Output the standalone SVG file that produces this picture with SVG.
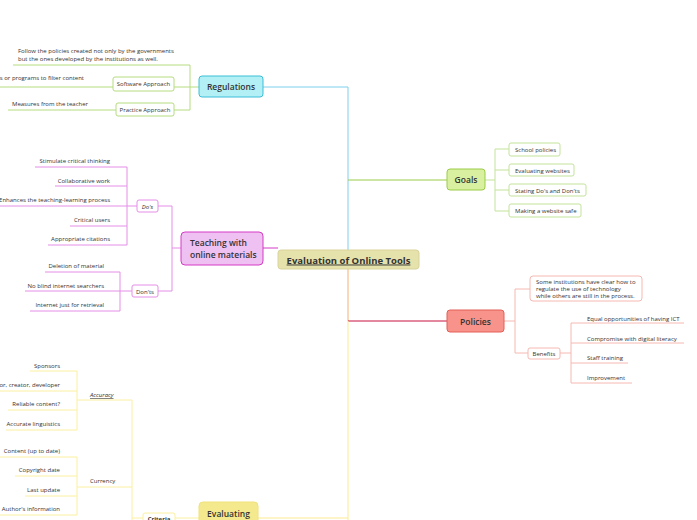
<svg xmlns="http://www.w3.org/2000/svg" width="697" height="520" viewBox="0 0 697 520">
<style>
text{font-family:"Open Sans","DejaVu Sans",sans-serif;fill:#333}
.s{font-size:6px}
.m{font-size:8.5px;font-weight:600}
.b{fill:#fff;stroke-width:1}
line,polyline,path{fill:none}
</style>
<rect width="697" height="520" fill="#fff"/>
<g id="connectors">
<path d="M263 87H348V250" stroke="#7fd0ee"/>
<path d="M348 180H447" stroke="#9bcc46"/>
<path d="M348 269V321" stroke="#f5b070"/>
<path d="M348 321H447" stroke="#c8103f"/>
<path d="M348 321V520" stroke="#fbeb90"/>
<path d="M263 248H278" stroke="#d63bc6"/>
<path d="M258 518H348" stroke="#fbeb90"/>
<g stroke="#b5dc7e">
<path d="M199 87H190M190 65V110M190 65H13M190 87H174M190 110H174"/>
<path d="M113 87H0M116 110H8"/>
</g>
<g stroke="#e48ee8">
<path d="M181 248H172M172 206V291M172 206H158M172 291H158"/>
<path d="M137 206H127M127 167V245M127 167H35M127 186H55M127 206H0M127 226H70M127 245H48"/>
<path d="M132 291H120M120 272V311M120 272H45M120 291H25M120 311H30"/>
</g>
<g stroke="#fbf0a0">
<path d="M199 518H175M143 518H132M132 400V520M132 400H90M132 487H90"/>
<path d="M90 400H77M77 371V430M77 371H30M77 391H0M77 410H8M77 430H6"/>
<path d="M90 487H77M77 457V515M77 457H0M77 476H15M77 496H25M77 515H0"/>
</g>
<g stroke="#c4e39a">
<path d="M485 180H495M495 149V211M495 149H509M495 170H509M495 190H509M495 211H509"/>
</g>
<g stroke="#f5b8b2">
<path d="M504 321H515M515 289V353M515 289H530M515 353H528"/>
<path d="M560 353H571M571 323V383M571 323H684M571 343H684M571 363H628M571 383H632"/>
</g>
</g>
<g id="center"><rect x="278" y="250" width="141" height="19" rx="3" fill="#e6e2ab" stroke="#d8d39a"/><text x="348.5" y="263.5" text-anchor="middle" style="font-size:9.5px;font-weight:bold;text-decoration:underline">Evaluation of Online Tools</text></g>
<g id="regulations"><rect x="199" y="76" width="64" height="21" rx="3" fill="#b3f0f5" stroke="#3bbfd6"/><text x="231" y="90" text-anchor="middle" class="m">Regulations</text></g>
<g id="reg-follow"><text x="18" y="53" class="s">Follow the policies created not only by the governments</text><text x="18" y="61" class="s">but the ones developed by the institutions as well.</text></g>
<g id="software"><rect x="113" y="77" width="61" height="14" rx="2" class="b" stroke="#b5dc7e"/><text x="143.5" y="86" text-anchor="middle" class="s">Software Approach</text><text x="84" y="80" text-anchor="end" class="s">s or programs to filter content</text></g>
<g id="practice"><rect x="116" y="103" width="58" height="13" rx="2" class="b" stroke="#b5dc7e"/><text x="145" y="112" text-anchor="middle" class="s">Practice Approach</text><text x="12" y="106" class="s">Measures from the teacher</text></g>
<g id="teaching"><rect x="181" y="232" width="82" height="33" rx="4" fill="#efc0f2" stroke="#d63bc6"/><text x="190" y="246" class="m">Teaching with</text><text x="190" y="258" class="m">online materials</text></g>
<g id="dos"><rect x="137" y="200" width="21" height="12" rx="2" class="b" stroke="#e48ee8"/><text x="147.5" y="208.5" text-anchor="middle" class="s" style="font-style:italic">Do's</text>
<text x="110" y="163" text-anchor="end" class="s">Stimulate critical thinking</text>
<text x="110" y="183" text-anchor="end" class="s">Collaborative work</text>
<text x="110" y="202" text-anchor="end" class="s">Enhances the teaching-learning process</text>
<text x="110" y="222" text-anchor="end" class="s">Critical users</text>
<text x="110" y="241" text-anchor="end" class="s">Appropriate citations</text></g>
<g id="donts"><rect x="132" y="285" width="26" height="12" rx="2" class="b" stroke="#e48ee8"/><text x="145" y="293.5" text-anchor="middle" class="s">Don'ts</text>
<text x="104" y="268" text-anchor="end" class="s">Deletion of material</text>
<text x="104" y="288" text-anchor="end" class="s">No blind internet searchers</text>
<text x="104" y="307" text-anchor="end" class="s">Internet just for retrieval</text></g>
<g id="evaluating"><rect x="199" y="502" width="59" height="30" rx="4" fill="#f5e98d" stroke="#f0e27a"/><text x="228.5" y="517" text-anchor="middle" class="m">Evaluating</text></g>
<g id="criteria"><rect x="143" y="513" width="32" height="12" rx="2" class="b" stroke="#fbf0a0"/><text x="159" y="521" text-anchor="middle" class="s" style="font-weight:bold">Criteria</text></g>
<g id="accuracy"><text x="90" y="397" class="s" style="font-style:italic;text-decoration:underline">Accuracy</text>
<text x="60" y="368" text-anchor="end" class="s">Sponsors</text>
<text x="60" y="387" text-anchor="end" class="s">or, creator, developer</text>
<text x="60" y="406" text-anchor="end" class="s">Reliable content?</text>
<text x="60" y="426" text-anchor="end" class="s">Accurate linguistics</text></g>
<g id="currency"><text x="90" y="483" class="s">Currency</text>
<text x="60" y="453" text-anchor="end" class="s">Content (up to date)</text>
<text x="60" y="472" text-anchor="end" class="s">Copyright date</text>
<text x="60" y="492" text-anchor="end" class="s">Last update</text>
<text x="60" y="511" text-anchor="end" class="s">Author's information</text></g>
<g id="goals"><rect x="447" y="169" width="38" height="21" rx="3" fill="#d8f0a0" stroke="#9bcc46"/><text x="466" y="183" text-anchor="middle" class="m">Goals</text></g>
<g id="goal-items">
<rect x="509" y="143" width="51" height="13" rx="2" class="b" stroke="#c4e39a"/><text x="515" y="151.5" class="s">School policies</text>
<rect x="509" y="164" width="65" height="12" rx="2" class="b" stroke="#c4e39a"/><text x="515" y="172.5" class="s">Evaluating websites</text>
<rect x="509" y="184" width="77" height="12" rx="2" class="b" stroke="#c4e39a"/><text x="515" y="192.5" class="s">Stating Do's and Don'ts</text>
<rect x="509" y="204" width="72" height="13" rx="2" class="b" stroke="#c4e39a"/><text x="515" y="212.5" class="s">Making a website safe</text></g>
<g id="policies"><rect x="447" y="310" width="57" height="22" rx="3" fill="#f7938a" stroke="#e35f56"/><text x="475.5" y="324.5" text-anchor="middle" class="m">Policies</text></g>
<g id="policy-note"><rect x="530" y="276" width="112" height="25" rx="3" class="b" stroke="#f5b8b2"/><text x="536" y="284" class="s">Some institutions have clear how to</text><text x="536" y="291" class="s">regulate the use of technology</text><text x="536" y="298" class="s">while others are still in the process.</text></g>
<g id="benefits"><rect x="528" y="348" width="32" height="11" rx="2" class="b" stroke="#f5b8b2"/><text x="544" y="356" text-anchor="middle" class="s">Benefits</text>
<text x="587" y="321" class="s">Equal opportunities of having ICT</text>
<text x="587" y="341" class="s">Compromise with digital literacy</text>
<text x="587" y="360" class="s">Staff training</text>
<text x="587" y="380" class="s">Improvement</text></g>
</svg>
